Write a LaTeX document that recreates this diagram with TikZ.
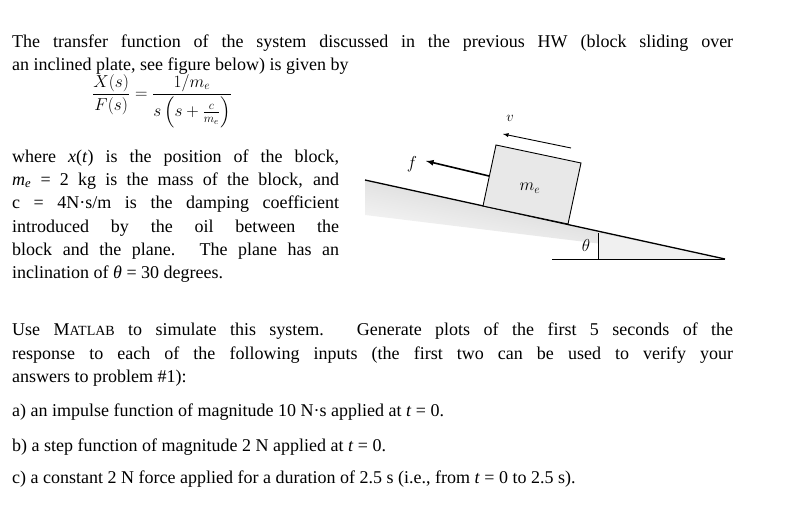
\documentclass[tikz,border=0pt]{standalone}
\usepackage{amsmath}
\usepackage{fontspec}
\setmainfont{Liberation Serif}
\newcommand{\myln}[3]{\node[txt] at (12pt,-#1pt) {\makebox[#2pt][s]{#3}};}
\newcommand{\mylnat}[2]{\node[txt] at (12pt,-#1pt) {#2};}
\tikzset{txt/.style={anchor=west,inner sep=0pt,font=\fontsize{18}{20}\selectfont}}
\begin{document}
\begin{tikzpicture}[x=1pt,y=1pt]
\useasboundingbox (0,0) rectangle (807,-510);
\myln{43}{721}{The transfer function of the system discussed in the previous HW (block sliding over}
\mylnat{66}{an inclined plate, see figure below) is given by}
\node[txt,anchor=west] (eq) at (92,-101) {$\dfrac{X(s)}{F(s)}=\dfrac{1/m_e}{s\left(s+\frac{c}{m_e}\right)}$};
\myln{158}{327}{where \textit{x}(\textit{t}) is the position of the block,}
\myln{181}{327}{\textit{m\textsubscript{e}} = 2 kg is the mass of the block, and}
\myln{204}{327}{c = 4N·s/m is the damping coefficient}
\myln{228}{327}{introduced by the oil between the}
\myln{251}{327}{block and the plane. The plane has an}
\mylnat{274}{inclination of \textit{θ} = 30 degrees.}
\myln{331}{721}{Use M{\fontsize{14}{16}\selectfont ATLAB} to simulate this system. Generate plots of the first 5 seconds of the}
\myln{355}{721}{response to each of the following inputs (the first two can be used to verify your}
\mylnat{378}{answers to problem \#1):}
\mylnat{412}{a) an impulse function of magnitude 10 N·s applied at \textit{t} = 0.}
\mylnat{447}{b) a step function of magnitude 2 N applied at \textit{t} = 0.}
\mylnat{479}{c) a constant 2 N force applied for a duration of 2.5 s (i.e., from \textit{t} = 0 to 2.5 s).}
% figure
\coordinate (A) at (365,-180);
\coordinate (B) at (725,-259);
\coordinate (C) at (552,-259);
\shade[top color=gray!45,bottom color=white,shading angle=-12] (A) -- (B) -- (365,-215) -- cycle;
\fill[gray!12] (598,-233) -- (B) -- (598,-259) -- cycle;
\draw[line width=1.3pt] (A) -- (B);
\draw[line width=0.8pt] (C) -- (B);
\draw[line width=0.8pt] (598,-233.5) -- (598,-259);
\node (th) at (586,-246) {\fontsize{17}{18}\selectfont$\theta$};
\draw[line width=0.9pt,fill=gray!18] (483,-206) -- (496,-145) -- (581,-163) -- (568,-224) -- cycle;
\node (me) at (530,-188) {\fontsize{18}{18}\selectfont$m_e$};
\draw[line width=1.6pt,-latex] (489,-176) -- (426,-161);
\node (f) at (412,-164) {\fontsize{17}{18}\selectfont$f$};
\draw[line width=0.9pt,-latex] (571,-148) -- (503,-134);
\node (v) at (510,-118) {\fontsize{14}{16}\selectfont$v$};
\end{tikzpicture}
\end{document}
